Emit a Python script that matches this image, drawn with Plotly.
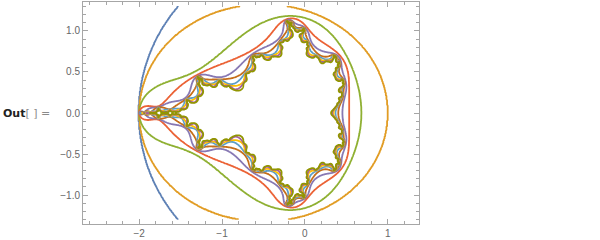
import numpy as np
import plotly.graph_objects as go

# Mandelbrot lemniscates |p_n(c)| = 2, n = 1..10
levels = [1, 2, 3, 4, 5, 6, 7, 8, 9, 10]
colors = ["#5E81B5", "#E19C24", "#8FB032", "#EB6235", "#8778B3",
          "#C56E1A", "#5D9EC7", "#FFBF00", "#A5609D", "#929600"]
x_domain = [-2.6, 1.3]
y_domain = [-1.3, 1.3]
bailout = 2.0
x_ticks = [-2, -1, 0, 1]
y_ticks = [-1.0, -0.5, 0.0, 0.5, 1.0]

step = 0.0075
xs = np.round(np.arange(x_domain[0], x_domain[1] + step / 2, step), 4)
ys = np.round(np.arange(y_domain[0], y_domain[1] + step / 2, step), 4)
X, Y = np.meshgrid(xs, ys)
C = X + 1j * Y
Z = np.zeros_like(C)

fig = go.Figure()
for n in range(1, max(levels) + 1):
    active = np.abs(Z) < 1e6
    Z[active] = Z[active] ** 2 + C[active]
    if n in levels:
        with np.errstate(divide="ignore"):
            f = np.log(np.abs(Z)) - np.log(bailout)
        f = np.clip(np.nan_to_num(f, nan=3, neginf=-3, posinf=3), -3, 3)
        f = np.round(f, 2)
        fig.add_trace(go.Contour(
            x=xs, y=ys, z=f,
            contours=dict(start=0, end=0.5, size=1, coloring="none"),
            line=dict(color=colors[levels.index(n)], width=1.8, smoothing=0),
            showscale=False, hoverinfo="skip",
        ))

frame = "#a6a6a6"
axis_common = dict(
    showgrid=False, zeroline=False, showline=True, linecolor=frame, linewidth=1,
    mirror="ticks", ticks="inside", ticklen=5, tickcolor=frame, tickwidth=1,
    tickfont=dict(family="Liberation Sans, Arial, sans-serif", size=10, color="#666666"),
)
fig.update_xaxes(range=[-2.678, 1.378], tickvals=x_ticks, ticktext=[f"{v:d}".replace("-", "−") for v in x_ticks],
                 minor=dict(dtick=0.2, tick0=0, ticks="inside", ticklen=3, tickcolor=frame),
                 **axis_common)
fig.update_yaxes(range=[-1.352, 1.352], tickvals=y_ticks, ticktext=[f"{v:.1f}".replace("-", "−") for v in y_ticks],
                 minor=dict(dtick=0.1, tick0=0, ticks="inside", ticklen=3, tickcolor=frame),
                 **axis_common)

fig.add_annotation(
    xref="paper", yref="paper", x=-0.243, y=0.5, xanchor="left", yanchor="middle",
    text="<b>Out</b><span style='color:#8a8a8a'>[ ] =</span>", showarrow=False,
    font=dict(family="DejaVu Sans, sans-serif", size=11, color="#222222"),
)

fig.update_layout(
    width=600, height=240,
    margin=dict(l=83, r=181, t=1, b=15),
    paper_bgcolor="white", plot_bgcolor="white",
    showlegend=False,
)
fig.write_html("out.html")
